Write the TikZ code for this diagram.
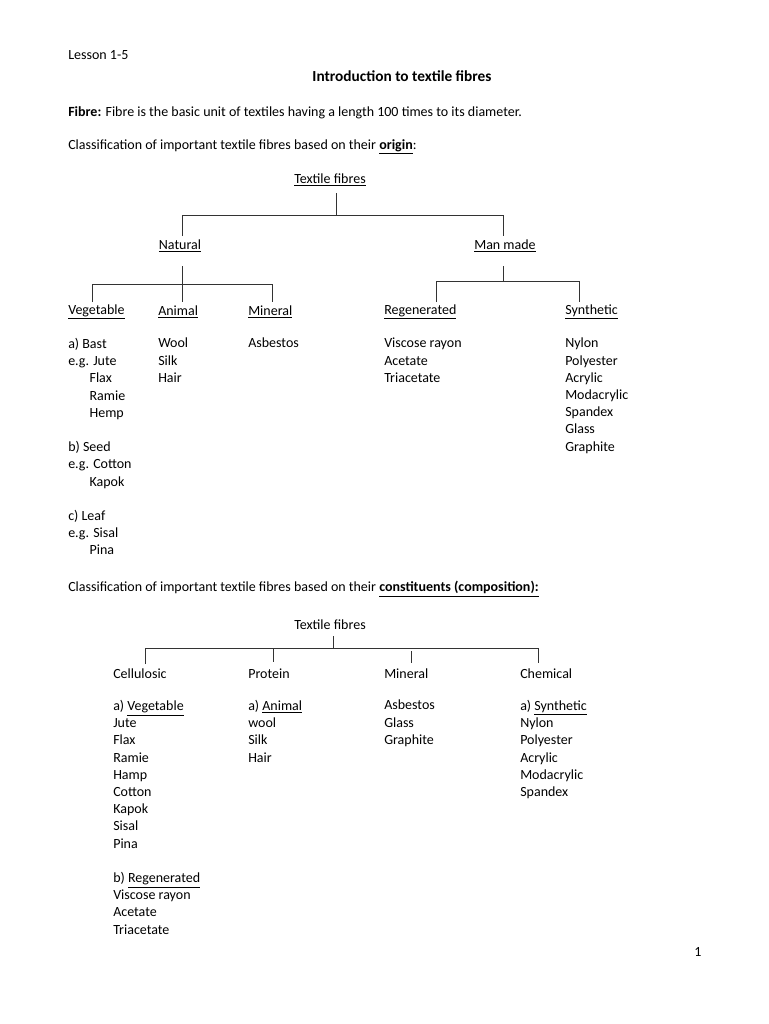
\documentclass[tikz,border=0pt]{standalone}
\usepackage{fontspec}
\setmainfont{Carlito}
\begin{document}
\begin{tikzpicture}[x=0.75pt,y=-0.75pt,
  txt/.style={anchor=west,inner sep=0pt,font=\fontsize{10.5pt}{12.9pt}\selectfont},
  col/.style={anchor=north west,inner sep=0pt,align=left,font=\fontsize{10.5pt}{12.9pt}\selectfont},
  ctr/.style={anchor=center,inner sep=0pt,font=\fontsize{10.5pt}{12.9pt}\selectfont},
  ln/.style={line width=0.7pt,black!80}]
\useasboundingbox (0,0) rectangle (768,1024);
\def\ind{\hspace*{16pt}}
\node[txt] (lesson) at (68,55) {Lesson 1-5};
\node[ctr,font=\fontsize{11.5pt}{13pt}\selectfont\bfseries] (title) at (402,76) {Introduction to textile fibres};
\node[txt] (fibre) at (68,113) {\textbf{Fibre:} Fibre is the basic unit of textiles having a length 100 times to its diameter.};
\node[txt] (cls1) at (68,147) {Classification of important textile fibres based on their \textbf{\underline{origin}}:};
% tree 1
\node[ctr] (tf1) at (330,180) {\underline{Textile fibres}};
\node[ctr] (nat) at (180,246) {\underline{Natural}};
\node[ctr] (man) at (505,246) {\underline{Man made}};
\draw[ln] (336,193) -- (336,215) (182,236) -- (182,215) -- (503,215) -- (503,236);
\draw[ln] (182,266) -- (182,302) (92,302) -- (92,284) -- (272,284) -- (272,302);
\draw[ln] (503,266) -- (503,281) (436,302) -- (436,281) -- (579,281) -- (579,302);
\node[txt] (veg) at (68,312) {\underline{Vegetable}};
\node[txt] (ani) at (158,312) {\underline{Animal}};
\node[txt] (min) at (248,312) {\underline{Mineral}};
\node[txt] (reg) at (384,312) {\underline{Regenerated}};
\node[txt] (syn) at (565,312) {\underline{Synthetic}};
\node[col] (vegl) at (68,338) {a) Bast\\e.g. Jute\\\ind Flax\\\ind Ramie\\\ind Hemp\\[12.9pt]b) Seed\\e.g. Cotton\\\ind Kapok\\[12.9pt]c) Leaf\\e.g. Sisal\\\ind Pina};
\node[col] (anil) at (158,338) {Wool\\Silk\\Hair};
\node[col] (minl) at (248,338) {Asbestos};
\node[col] (regl) at (384,338) {Viscose rayon\\Acetate\\Triacetate};
\node[col] (synl) at (565,338) {Nylon\\Polyester\\Acrylic\\Modacrylic\\Spandex\\Glass\\Graphite};
% second
\node[txt] (cls2) at (68,589) {Classification of important textile fibres based on their \textbf{\underline{constituents (composition):}}};
\node[ctr] (tf2) at (330,625) {Textile fibres};
\draw[ln] (333,636) -- (333,648) (145,664) -- (145,648) -- (538,648) -- (538,663);
\draw[ln] (273,649) -- (273,662) (411,651) -- (411,663);
\node[txt] (cel) at (113,674) {Cellulosic};
\node[txt] (pro) at (248,674) {Protein};
\node[txt] (min2) at (384,674) {Mineral};
\node[txt] (che) at (520,674) {Chemical};
\node[col] (cell) at (113,700) {a) \underline{Vegetable}\\Jute\\Flax\\Ramie\\Hamp\\Cotton\\Kapok\\Sisal\\Pina\\[12.9pt]b) \underline{Regenerated}\\Viscose rayon\\Acetate\\Triacetate};
\node[col] (prol) at (248,700) {a) \underline{Animal}\\wool\\Silk\\Hair};
\node[col] (min2l) at (384,700) {Asbestos\\Glass\\Graphite};
\node[col] (chel) at (520,700) {a) \underline{Synthetic}\\Nylon\\Polyester\\Acrylic\\Modacrylic\\Spandex};
\node[txt] (pg) at (694,952) {1};
\end{tikzpicture}
\end{document}
